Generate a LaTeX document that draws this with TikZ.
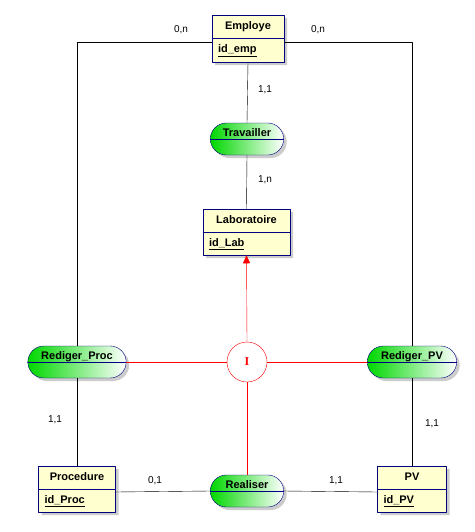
\documentclass[tikz,border=0pt]{standalone}
\usepackage{fontspec}
\setmainfont{Liberation Sans}
\newfontfamily\seriffont{Liberation Serif}
\usetikzlibrary{shapes.multipart,shapes.misc,shadows,arrows.meta}
\definecolor{navy}{RGB}{0,0,128}
\definecolor{cream}{RGB}{255,255,208}
\definecolor{mcdgreen}{RGB}{0,215,0}
\newcommand{\enttitle}[1]{\makebox[\linewidth][c]{#1}}
\begin{document}
\begin{tikzpicture}[x=1pt, y=-1pt, line cap=round, line join=round, font=\fontsize{10}{12}\selectfont]
	\tikzset{entity/.style={rectangle split, rectangle split parts=2, draw=navy, fill=cream, align=left,
			font=\fontsize{11}{13}\selectfont\bfseries, text height=9pt, text depth=3pt, inner ysep=5.5pt, inner xsep=6pt,
			drop shadow={shadow xshift=3pt, shadow yshift=-3pt, fill=gray!40, opacity=1}},
		assoc/.style={rounded rectangle, draw=navy, left color=mcdgreen, right color=white, minimum height=32pt,
			text height=8pt, text depth=14pt, font=\fontsize{11}{13}\selectfont\bfseries,
			drop shadow={shadow xshift=3pt, shadow yshift=-3pt, fill=gray!40, opacity=1},
			append after command={(\tikzlastnode.west) edge[draw=navy] (\tikzlastnode.east)}},
		card/.style={font=\fontsize{10}{12}\selectfont}}
	\fill[white] (0,0) rectangle (474,532);
	\useasboundingbox (0,0) rectangle (474,532);
	% entites
	\node[entity, text width=60pt] (emp) at (248,38.5) {\enttitle{Employe}\nodepart{two}\underline{id\_emp}};
	\node[entity, text width=75pt] (lab) at (246.5,232) {\enttitle{Laboratoire}\nodepart{two}\underline{id\_Lab}};
	\node[entity, text width=65pt] (proc) at (77,489) {\enttitle{Procedure}\nodepart{two}\underline{id\_Proc}};
	\node[entity, text width=57pt] (pv) at (412,489) {\enttitle{PV}\nodepart{two}\underline{id\_PV}};
	% associations
	\node[assoc, minimum width=80pt] (trav) at (247,139) {Travailler};
	\node[assoc, minimum width=105pt] (rproc) at (77,362) {Rediger\_Proc};
	\node[assoc, minimum width=96pt] (rpv) at (412,362) {Rediger\_PV};
	\node[assoc, minimum width=80pt] (real) at (247,491) {Realiser};
	\node[circle, draw=red, minimum size=40pt, inner sep=0pt, text=red, font=\seriffont\bfseries\fontsize{12}{14}\selectfont] (inter) at (247,362) {I};
	% liens
	\draw ([yshift=-4pt]emp.west) -| (rproc.north);
	\draw ([yshift=-4pt]emp.east) -| (rpv.north);
	\draw (emp.south) -- (trav.north);
	\draw (trav.south) -- (lab.north);
	\draw (rproc.south) -- (proc.north);
	\draw (rpv.south) -- (pv.north);
	\draw ([yshift=-3pt]proc.east) -- (real.west);
	\draw (real.east) -- ([yshift=-3pt]pv.west);
	\draw[red] (inter.west) -- (rproc.east);
	\draw[red] (inter.east) -- (rpv.west);
	\draw[red] (inter.south) -- (real.north);
	\draw[red, -{Triangle[length=8pt,width=7pt]}] (inter.north) -- (lab.south);
	% cardinalites
	\node[card] (c1) at (181,30) {0,n};
	\node[card] (c2) at (318,30) {0,n};
	\node[card] (c3) at (265,90) {1,1};
	\node[card] (c4) at (265,180) {1,n};
	\node[card] (c5) at (55,420) {1,1};
	\node[card] (c6) at (432,424) {1,1};
	\node[card] (c7) at (155,481) {0,1};
	\node[card] (c8) at (336,481) {1,1};
\end{tikzpicture}
\end{document}
